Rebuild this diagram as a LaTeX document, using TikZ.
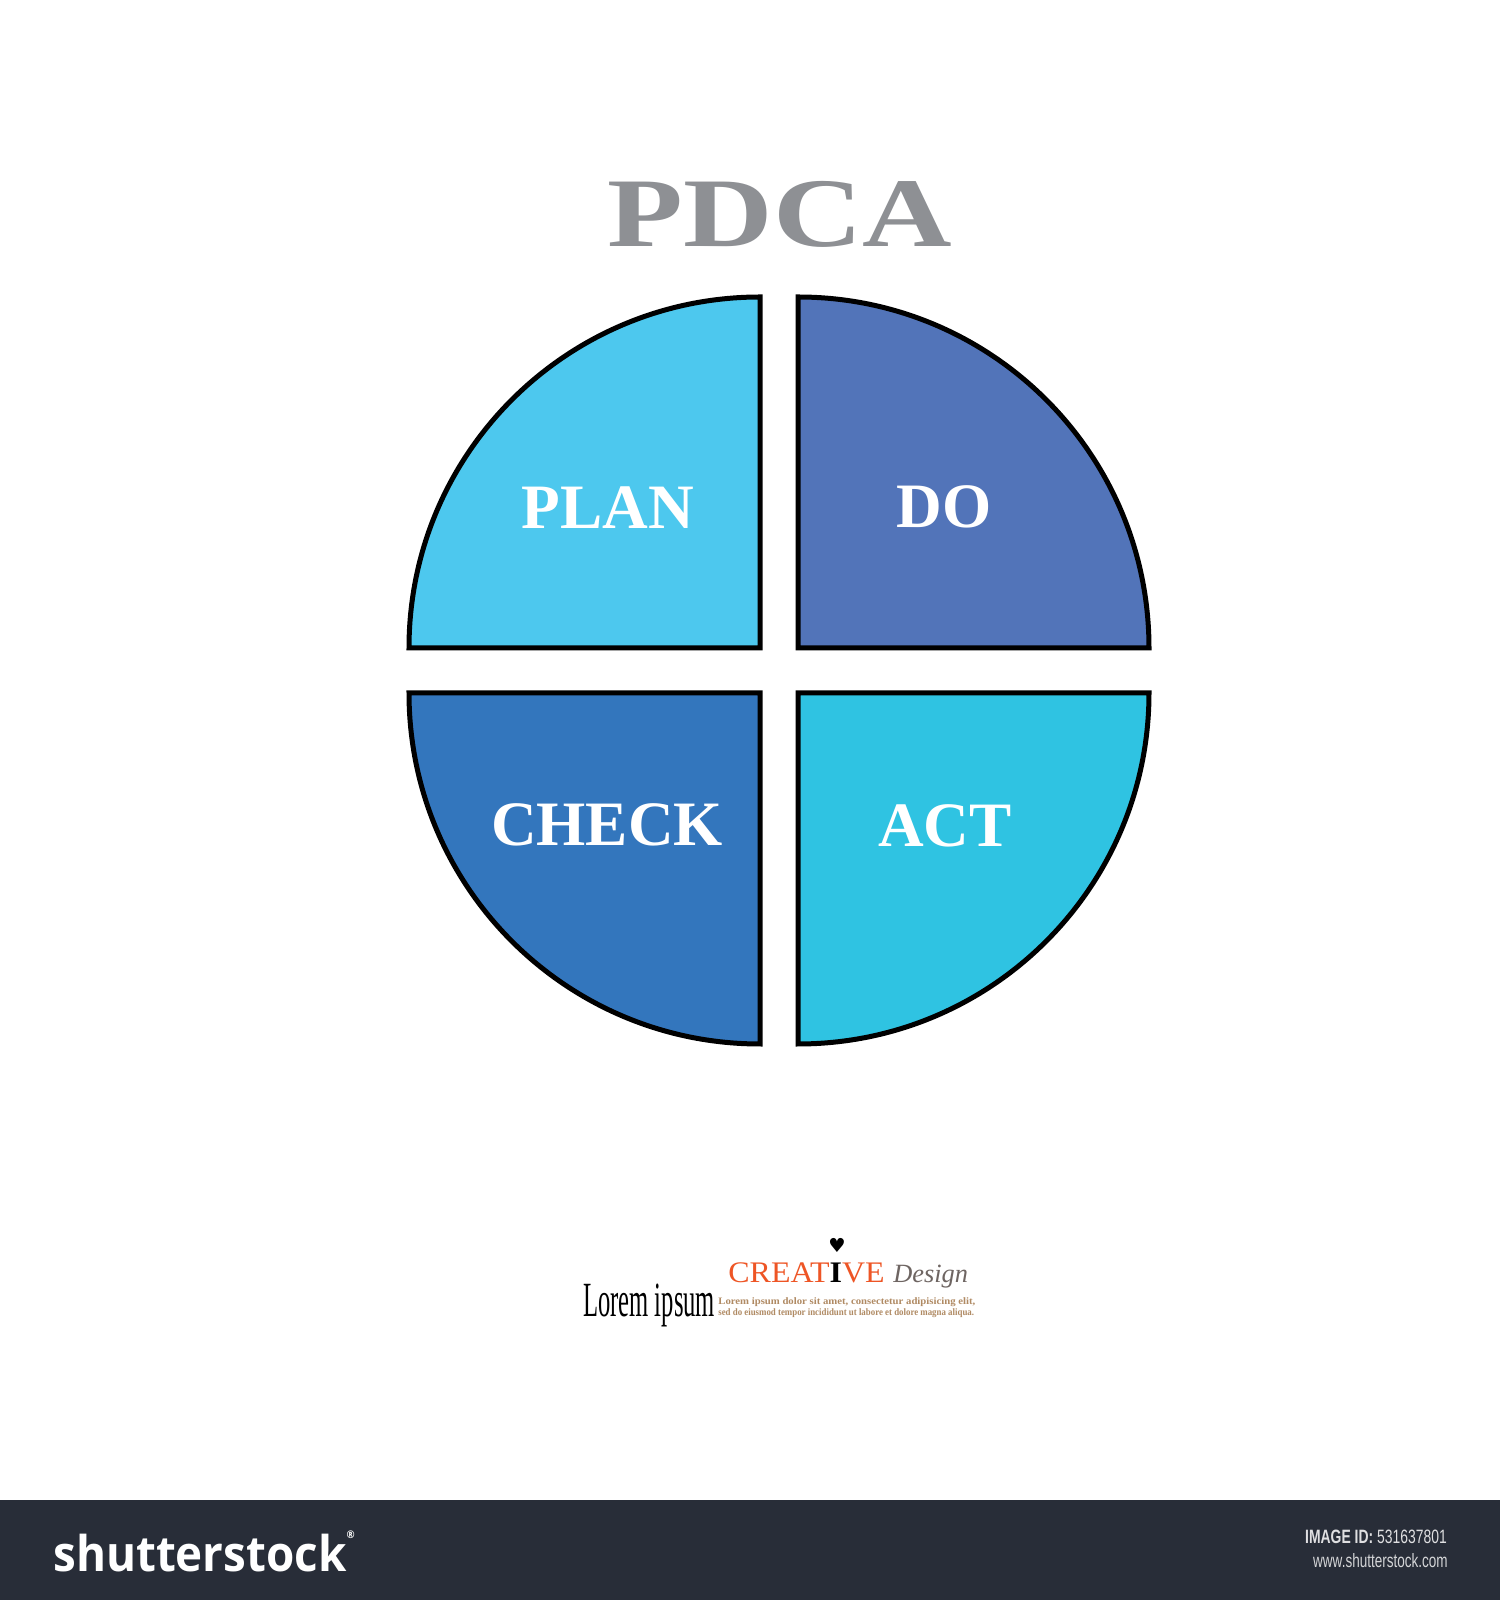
\documentclass[tikz,border=0pt]{standalone}
\usepackage{fontspec}
\setmainfont{Liberation Serif}
\newfontfamily\logofont{Open Sans}
\newfontfamily\idfont{Liberation Sans}
\newfontfamily\symfont{DejaVu Sans}
\definecolor{plancol}{HTML}{4DC8EE}
\definecolor{docol}{HTML}{5274B9}
\definecolor{checkcol}{HTML}{3376BD}
\definecolor{actcol}{HTML}{2FC3E2}
\definecolor{titlecol}{HTML}{8E9094}
\definecolor{barcol}{HTML}{282D38}
\definecolor{creacol}{HTML}{EE5525}
\definecolor{designcol}{HTML}{6E6562}
\definecolor{smallcol}{HTML}{B08A63}
\tikzset{
  quarter/.style={draw=black, line width=0.1cm},
  stage/.style={text=white, font=\fontsize{36}{36}\selectfont\bfseries, inner sep=0pt},
  smallline/.style={anchor=base west, text=smallcol, font=\fontsize{5.6}{5.6}\selectfont\bfseries, inner sep=0pt}
}

\begin{document}
\begin{tikzpicture}[x=0.02cm, y=0.02cm]
    \useasboundingbox (0,0) rectangle (1500,1600);
    \fill[white] (0,0) rectangle (1500,1600);
    \node[text=titlecol, font=\fontsize{56}{56}\selectfont\bfseries, xscale=1.26, inner sep=0pt] (title) at (780,1386) {PDCA};
    \coordinate (tl) at (760,952);
    \coordinate (tr) at (798,952);
    \coordinate (bl) at (760,907);
    \coordinate (br) at (798,907);
    \draw[quarter, fill=plancol] (tl) -- ++(-351,0) arc (180:90:351) -- cycle;
    \draw[quarter, fill=docol] (tr) -- ++(0,351) arc (90:0:351) -- cycle;
    \draw[quarter, fill=checkcol] (bl) -- ++(-351,0) arc (180:270:351) -- cycle;
    \draw[quarter, fill=actcol] (br) -- ++(351,0) arc (0:-90:351) -- cycle;
    \node[stage] (plan) at (608,1092) {PLAN};
    \node[stage] (do) at (944,1093) {DO};
    \node[stage] (check) at (607,775) {CHECK};
    \node[stage] (act) at (945,774) {ACT};
    \node[anchor=base west, font=\fontsize{28}{28}\selectfont, xscale=0.5, inner sep=0pt] (lorem) at (583,283) {Lorem ipsum};
    \node[anchor=base west, text=creacol, font=\fontsize{17}{17}\selectfont, xscale=1.07, inner sep=0pt] (creative) at (728,317) {CREAT{\color{black}\bfseries I}VE};
    \node[font=\symfont\fontsize{11}{11}\selectfont, inner sep=0pt] (heart) at (837,355) {♥};
    \node[anchor=base west, text=designcol, font=\fontsize{15}{15}\selectfont\itshape, inner sep=0pt] (design) at (893,317) {Design};
    \node[smallline, xscale=1.09] (small1) at (718,295) {Lorem ipsum dolor sit amet, consectetur adipisicing elit,};
    \node[smallline, xscale=0.9] (small2) at (718,284) {sed do eiusmod tempor incididunt ut labore et dolore magna aliqua.};
    \fill[barcol] (0,0) rectangle (1500,100);
    \node[anchor=base west, text=white, font=\logofont\fontsize{28}{28}\selectfont\bfseries, xscale=0.93, inner sep=0pt] (logo) at (53,29) {shutterstock\raisebox{1.2ex}{\fontsize{6}{6}\selectfont®}};
    \node[anchor=base east, text=white!85!barcol, font=\idfont\fontsize{11}{11}\selectfont, xscale=0.72, inner sep=0pt] (imageid) at (1447,56) {\textbf{IMAGE ID:} 531637801};
    \node[anchor=base east, text=white!80!barcol, font=\idfont\fontsize{11}{11}\selectfont, xscale=0.7, inner sep=0pt] (site) at (1448,32) {www.shutterstock.com};
\end{tikzpicture}
\end{document}
